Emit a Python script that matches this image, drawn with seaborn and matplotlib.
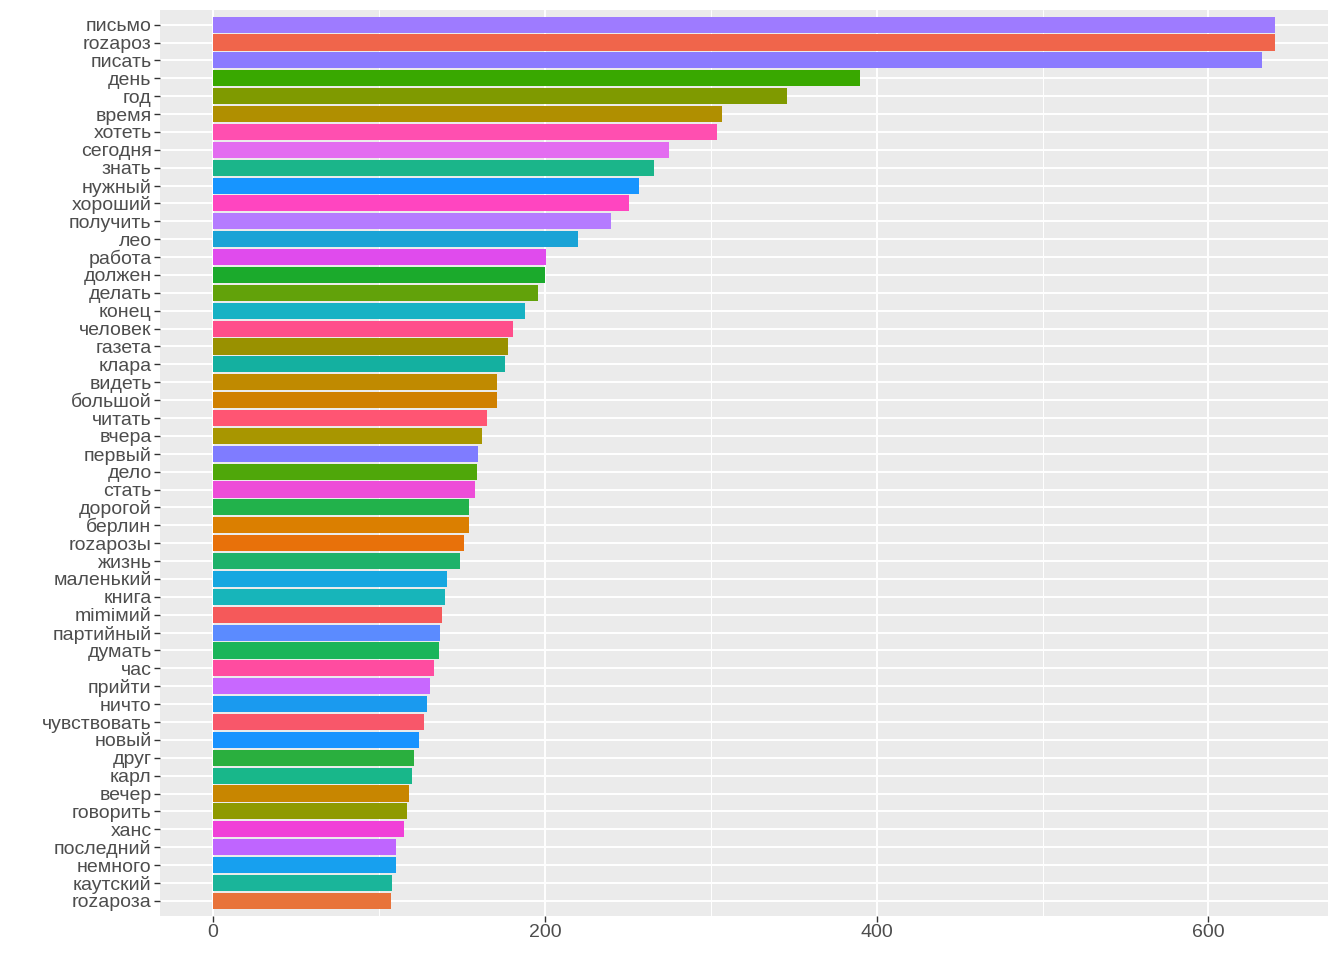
import numpy as np
import pandas as pd
import matplotlib
matplotlib.use("Agg")
import matplotlib.pyplot as plt
import seaborn as sns
from matplotlib.ticker import MultipleLocator

words = ["письмо", "rozaроз", "писать", "день", "год", "время", "хотеть", "сегодня",
         "знать", "нужный", "хороший", "получить", "лео", "работа", "должен", "делать",
         "конец", "человек", "газета", "клара", "видеть", "большой", "читать", "вчера",
         "первый", "дело", "стать", "дорогой", "берлин", "rozaрозы", "жизнь", "маленький",
         "книга", "mimiмий", "партийный", "думать", "час", "прийти", "ничто", "чувствовать",
         "новый", "друг", "карл", "вечер", "говорить", "ханс", "последний", "немного",
         "каутский", "rozaроза"]
counts = [640, 640, 632, 390, 346, 307, 304, 275, 266, 257, 251, 240, 220, 201, 200, 196,
          188, 181, 178, 176, 171, 171, 165, 162, 160, 159, 158, 154, 154, 151, 149, 141,
          140, 138, 137, 136, 133, 131, 129, 127, 124, 121, 120, 118, 117, 115, 110, 110,
          108, 107]
colors = ["#9E7BFF", "#F0654B", "#8B7BFF", "#39A800", "#7F9A00", "#B08F00", "#FF4FB0", "#E36CF0",
          "#1BB58A", "#1795FF", "#FF45C0", "#B57BFF", "#1AA3D6", "#E04BED", "#1BAA2C", "#62A20A",
          "#17B2C4", "#FF4E8B", "#999100", "#14B0A0", "#C08A00", "#D08000", "#FF5573", "#A89600",
          "#7F7CFF", "#4FA70A", "#ED4DD8", "#22B24B", "#DB7F00", "#E8710A", "#1EB26A", "#16A7E0",
          "#17B5BA", "#F5595A", "#5B8BFF", "#1AB55A", "#FF4CA0", "#C868FF", "#1A9AEF", "#F8576A",
          "#1993FF", "#2AAF3E", "#18B78A", "#C88600", "#8F9A00", "#F040D8", "#BF65FF", "#17A0EF",
          "#1AB59A", "#E8733A"]

df = pd.DataFrame({"word": words, "n": counts})

sns.set_theme(style="darkgrid", rc={"axes.facecolor": "#EBEBEB", "grid.color": "white"})
plt.rcParams["font.family"] = ["Liberation Sans", "DejaVu Sans"]

fig, ax = plt.subplots(figsize=(13.44, 9.6), dpi=100)
fig.subplots_adjust(left=0.119, right=0.988, top=0.99, bottom=0.046)

sns.barplot(data=df, x="n", y="word", hue="word", palette=colors, legend=False,
            orient="h", width=0.9, saturation=1, linewidth=0, ax=ax)

ax.set_xlim(-32, 672)
ax.set_ylim(len(words) - 0.16, -0.84)
ax.xaxis.set_major_locator(MultipleLocator(200))
ax.xaxis.set_minor_locator(MultipleLocator(100))
ax.grid(which="major", color="white", linewidth=1.4)
ax.grid(which="minor", axis="x", color="white", linewidth=0.7)
ax.set_xlabel("")
ax.set_ylabel("")
for s in ax.spines.values():
    s.set_visible(False)
ax.tick_params(axis="both", which="major", labelsize=14, labelcolor="#4D4D4D",
               color="#333333", length=4, width=1, pad=2, bottom=True, left=True)
ax.tick_params(axis="x", which="minor", length=0)

fig.savefig("out.png", dpi=100)
